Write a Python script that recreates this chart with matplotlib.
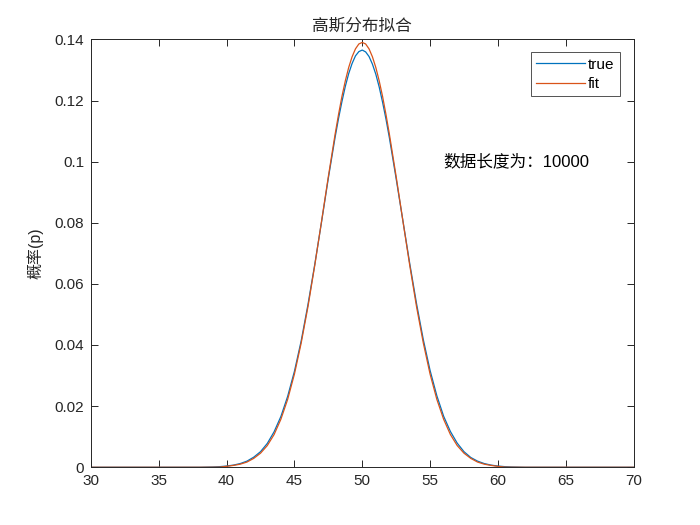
import matplotlib
matplotlib.use("Agg")
import matplotlib.pyplot as plt

plt.rcParams['font.family'] = ['Liberation Sans', 'Noto Sans CJK SC', 'DejaVu Sans']

x_vals = [30, 32, 34, 36, 38, 39, 39.5, 40, 40.5, 41, 41.5, 42, 42.5, 43, 43.5, 44, 44.5,
          45, 45.5, 46, 46.5, 47, 47.5, 48, 48.25, 48.5, 48.75, 49, 49.25, 49.5, 49.75,
          50, 50.25, 50.5, 50.75, 51, 51.25, 51.5, 51.75, 52,
          52.5, 53, 53.5, 54, 54.5, 55, 55.5, 56, 56.5, 57, 57.5, 58, 58.5, 59, 59.5,
          60, 60.5, 61, 62, 64, 66, 68, 70]

true_p = [0, 0, 0, 0, 0, 0.0001, 0.0002, 0.0004, 0.0007, 0.0012, 0.0020, 0.0033, 0.0051,
          0.0078, 0.0116, 0.0166, 0.0232, 0.0314, 0.0414, 0.0533, 0.0664, 0.0803, 0.0946,
          0.1080, 0.1141, 0.1196, 0.1246, 0.1288, 0.1321, 0.1346, 0.1360,
          0.1365, 0.1359, 0.1344, 0.1319, 0.1286, 0.1244, 0.1194, 0.1139, 0.1078,
          0.0944,
          0.0806, 0.0667, 0.0536, 0.0418, 0.0317, 0.0234, 0.0167, 0.0117, 0.0079, 0.0051,
          0.0032, 0.0020, 0.0012, 0.0007, 0.0004, 0.0002, 0.0001, 0, 0, 0, 0, 0]

fit_p = [0, 0, 0, 0, 0, 0.00002, 0.00005, 0.0003, 0.0006, 0.0010, 0.0017, 0.0029, 0.0046,
         0.0071, 0.0107, 0.0157, 0.0222, 0.0305, 0.0407, 0.0526, 0.0661, 0.0805, 0.0951,
         0.1090, 0.1154, 0.1213, 0.1264, 0.1308, 0.1343, 0.1369, 0.1385,
         0.1390, 0.1385, 0.1369, 0.1343, 0.1308, 0.1264, 0.1213, 0.1154, 0.1090,
         0.0951,
         0.0805, 0.0661, 0.0526, 0.0407, 0.0305, 0.0222, 0.0157, 0.0107, 0.0071, 0.0046,
         0.0029, 0.0017, 0.0010, 0.0006, 0.0003, 0.00005, 0.00002, 0, 0, 0, 0, 0]

x_ticks = [30, 35, 40, 45, 50, 55, 60, 65, 70]
y_ticks = [0, 0.02, 0.04, 0.06, 0.08, 0.1, 0.12, 0.14]
y_tick_labels = ['0', '0.02', '0.04', '0.06', '0.08', '0.1', '0.12', '0.14']

fig = plt.figure(figsize=(7, 5.25), dpi=100)
ax = fig.add_axes([0.13, 0.11, 0.775, 0.815])

ax.plot(x_vals, true_p, color='#0072BD', lw=0.9, label='true')
ax.plot(x_vals, fit_p, color='#D95319', lw=0.9, label='fit')

ax.set_xlim(30, 70)
ax.set_ylim(0, 0.14)
ax.set_xticks(x_ticks)
ax.set_xticklabels([str(t) for t in x_ticks])
ax.set_yticks(y_ticks)
ax.set_yticklabels(y_tick_labels)
ax.tick_params(direction='in', top=True, right=True, length=5, width=0.7,
               labelsize=11, colors='#262626', labelcolor='#262626', pad=5)
for s in ax.spines.values():
    s.set_linewidth(0.7)
    s.set_color('#262626')

ax.set_title('高斯分布拟合', fontsize=12, color='#262626', pad=6,
             family=['Noto Sans CJK SC', 'DejaVu Sans'])
ax.set_ylabel('概率(p)', fontsize=11.5, color='#262626', labelpad=8)

ax.text(56, 0.1, '数据长度为：10000', fontsize=12, va='center', ha='left')

leg = ax.legend(loc='upper right', bbox_to_anchor=(0.975, 0.97), fontsize=11,
                frameon=True, fancybox=False, edgecolor='#262626', handlelength=3.2,
                handletextpad=0.2, borderpad=0.35, labelspacing=0.35, borderaxespad=0)
leg.get_frame().set_linewidth(0.7)

fig.savefig('out.png', dpi=100, facecolor='white')
